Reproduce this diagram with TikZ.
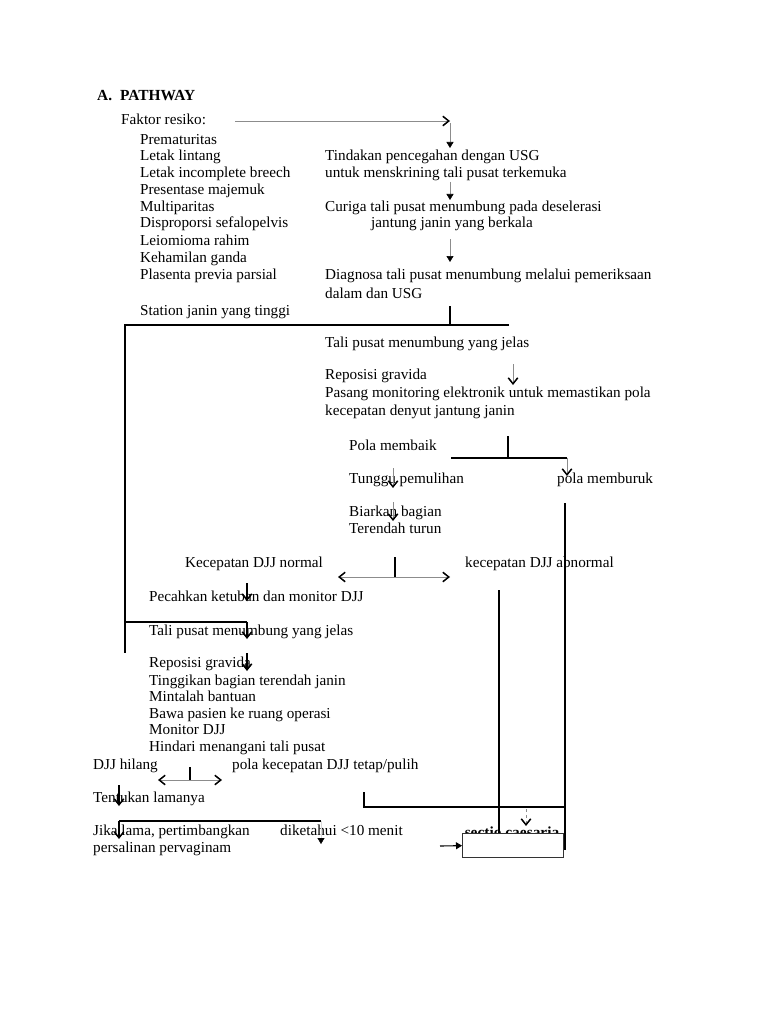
\documentclass[tikz,border=0pt]{standalone}
\usepackage{fontspec}
\setmainfont{Liberation Serif}
\usetikzlibrary{arrows.meta}
\tikzset{
  txt/.style={inner sep=0pt, anchor=base west, font=\fontsize{15.2}{18}\selectfont},
  btxt/.style={inner sep=0pt, font=\fontsize{15.4}{18}\selectfont\bfseries},
  ln/.style={line width=1.1pt, black},
  stem/.style={line width=0.6pt, black!45},
  varr/.style={-{Straight Barb[length=6pt,width=9.5pt,line width=1.5pt,color=black]}},
  dvarr/.style={{Straight Barb[length=6pt,width=9.5pt,line width=1.5pt,color=black]}-{Straight Barb[length=6pt,width=9.5pt,line width=1.5pt,color=black]}},
  tarr/.style={-{Triangle[length=6pt,width=7pt,color=black]}},
  boxst/.style={draw=black!80, line width=1.3pt, fill=white}
}
\begin{document}
\begin{tikzpicture}[x=1pt,y=-1pt]
\useasboundingbox[fill=white] (0,0) rectangle (768,1024);

% ---- texts ----
\node[txt,font=\fontsize{15.4}{18}\selectfont\bfseries] (tA) at (97,101) {A.};
\node[txt,font=\fontsize{15.4}{18}\selectfont\bfseries] (tPath) at (120,101) {PATHWAY};
\node[txt] (faktor) at (121,125) {Faktor resiko:};
\node[txt] (f1) at (140,145) {Prematuritas};
\node[txt] (f2) at (140,161) {Letak lintang};
\node[txt] (f3) at (140,178) {Letak incomplete breech};
\node[txt] (f4) at (140,195) {Presentase majemuk};
\node[txt] (f5) at (140,212) {Multiparitas};
\node[txt] (f6) at (140,228) {Disproporsi sefalopelvis};
\node[txt] (f7) at (140,245) {Leiomioma rahim};
\node[txt] (f8) at (140,262) {Kehamilan ganda};
\node[txt] (f9) at (140,279) {Plasenta previa parsial};
\node[txt] (f10) at (140,315) {Station janin yang tinggi};

\node[txt] (tind) at (325,161) {Tindakan pencegahan dengan USG};
\node[txt] (untuk) at (325,178) {untuk menskrining tali pusat terkemuka};
\node[txt] (curiga) at (325,212) {Curiga tali pusat menumbung pada deselerasi};
\node[txt] (jantung) at (371,228) {jantung janin yang berkala};
\node[txt] (diag) at (325,279) {Diagnosa tali pusat menumbung melalui pemeriksaan};
\node[txt] (dalam) at (325,298) {dalam dan USG};

\node[txt] (tali1) at (325,347) {Tali pusat menumbung yang jelas};
\node[txt] (repos1) at (325,379) {Reposisi gravida};
\node[txt] (pasang) at (325,397) {Pasang monitoring elektronik untuk memastikan pola};
\node[txt] (kecden) at (325,415) {kecepatan denyut jantung janin};

\node[txt] (polab) at (349,450) {Pola membaik};
\node[txt] (tunggu) at (349,483) {Tunggu pemulihan};
\node[txt] (polam) at (557,483) {pola memburuk};
\node[txt] (biarkan) at (349,516) {Biarkan bagian};
\node[txt] (terendah) at (349,533) {Terendah turun};

\node[txt] (knorm) at (185,567) {Kecepatan DJJ normal};
\node[txt] (kabn) at (465,567) {kecepatan DJJ abnormal};

\node[txt] (pecah) at (149,601) {Pecahkan ketuban dan monitor DJJ};
\node[txt] (tali2) at (149,635) {Tali pusat menumbung yang jelas};
\node[txt] (repos2) at (149,667) {Reposisi gravida};
\node[txt] (tinggi) at (149,685) {Tinggikan bagian terendah janin};
\node[txt] (minta) at (149,701) {Mintalah bantuan};
\node[txt] (bawa) at (149,718) {Bawa pasien ke ruang operasi};
\node[txt] (monit) at (149,734) {Monitor DJJ};
\node[txt] (hindari) at (149,751) {Hindari menangani tali pusat};

\node[txt] (djjh) at (93,769) {DJJ hilang};
\node[txt] (polak) at (232,769) {pola kecepatan DJJ tetap/pulih};
\node[txt] (tentu) at (93,802) {Tentukan lamanya};
\node[txt] (jika) at (93,835) {Jika lama, pertimbangkan};
\node[txt] (persal) at (93,852) {persalinan pervaginam};
\node[txt] (diket) at (280,835) {diketahui <10 menit};

\node[btxt, anchor=base] (sectio) at (512,837) {sectio caesaria};
\node[boxst, minimum width=101pt, minimum height=24pt, anchor=north west, inner sep=0pt] (box) at (462,833) {};

% ---- coordinates ----
\coordinate (a0) at (235,121);
\coordinate (a1) at (450,121);
\coordinate (a1b) at (450,123);
\coordinate (a2) at (450,148);
\coordinate (b1) at (450,182);
\coordinate (b2) at (450,200);
\coordinate (c1) at (450,239);
\coordinate (c2) at (450,262);
\coordinate (d1) at (450,306);
\coordinate (d2) at (450,325);
\coordinate (hl) at (125,325);
\coordinate (hr) at (509,325);
\coordinate (lv) at (125,653);
\coordinate (r1) at (513,364);
\coordinate (r2) at (513,385);
\coordinate (p1) at (508,436);
\coordinate (p2) at (508,458);
\coordinate (pl) at (451,458);
\coordinate (pr) at (567,458);
\coordinate (pm) at (567,476);
\coordinate (t1) at (393,468);
\coordinate (t2) at (393,488);
\coordinate (u1) at (393,502);
\coordinate (u2) at (393,521);
\coordinate (rv1) at (565,503);
\coordinate (rv2) at (565,850);
\coordinate (n1) at (395,557);
\coordinate (n2) at (395,577);
\coordinate (nl) at (338,577);
\coordinate (nr) at (450,577);
\coordinate (ab1) at (499,590);
\coordinate (k1) at (247,583);
\coordinate (k2) at (247,601);
\coordinate (j0) at (125,622);
\coordinate (j1) at (247,622);
\coordinate (j2) at (247,639);
\coordinate (g1) at (247,653);
\coordinate (g2) at (247,671);
\coordinate (h1) at (190,767);
\coordinate (h2) at (190,780);
\coordinate (hL) at (158,780);
\coordinate (hR) at (222,780);
\coordinate (e1) at (119,785);
\coordinate (e2) at (119,806);
\coordinate (s1) at (364,792);
\coordinate (s2) at (364,807);
\coordinate (s3) at (566,807);
\coordinate (sc1) at (526,809);
\coordinate (sc2) at (526,826);
\coordinate (l0) at (119,821);
\coordinate (l1) at (321,821);
\coordinate (l2) at (119,839);
\coordinate (l3) at (321,844);
\coordinate (bx) at (440,846);

% ---- connectors ----
\draw[stem,varr] (a0) -- (a1);
\draw[stem,tarr] (a1b) -- (a2);
\draw[stem,tarr] (b1) -- (b2);
\draw[stem,tarr] (c1) -- (c2);
\draw[ln] (d1) -- (d2);
\draw[ln] (hr) -- (hl) -- (lv);
\draw[stem,varr] (r1) -- (r2);
\draw[ln] (p1) -- (p2);
\draw[ln] (pl) -- (pr);
\draw[stem,varr] (pr) -- (pm);
\draw[stem,varr] (t1) -- (t2);
\draw[stem,varr] (u1) -- (u2);
\draw[ln] (rv1) -- (rv2);
\draw[ln] (n1) -- (n2);
\draw[stem,dvarr] (nl) -- (nr);
\draw[ln] (ab1) -- (box.north west -| ab1);
\draw[ln,varr] (k1) -- (k2);
\draw[ln] (j0) -- (j1);
\draw[ln,varr] (j1) -- (j2);
\draw[ln,varr] (g1) -- (g2);
\draw[ln] (h1) -- (h2);
\draw[stem,dvarr] (hL) -- (hR);
\draw[ln,varr] (e1) -- (e2);
\draw[ln] (s1) -- (s2) -- (s3);
\draw[stem,dashed,varr] (sc1) -- (sc2);
\draw[ln] (l0) -- (l1);
\draw[ln,varr] (l0) -- (l2);
\draw[black!15,line width=0.4pt,tarr] (l1) -- (l3);
\draw[ln,tarr] (bx) -- (box.west);
\end{tikzpicture}
\end{document}
